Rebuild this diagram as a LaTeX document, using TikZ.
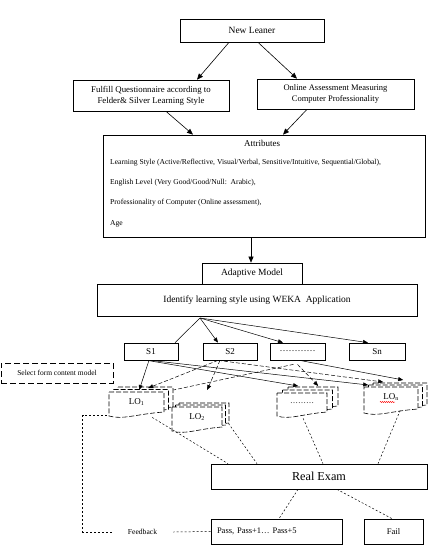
\documentclass[tikz,border=0pt]{standalone}
\usepackage{fontspec}
\setmainfont{Liberation Serif}
\usetikzlibrary{arrows.meta,decorations.pathmorphing}
\newcommand{\docshape}[6]{\draw[lodoc, shift={({#5},{#6})}] (#1,#2) -- (#3,#2) -- (#3,{#4-4}) .. controls ({#3-0.5*(#3-#1)},{#4-2}) and ({#1+0.25*(#3-#1)},{#4+4}) .. (#1,#4) -- cycle;}
\newcommand{\LOstack}[6]{%
  \docshape{#1}{#2}{#3}{#4}{2*#5}{2*#6}%
  \docshape{#1}{#2}{#3}{#4}{#5}{#6}%
  \docshape{#1}{#2}{#3}{#4}{0}{0}}
\begin{document}
\begin{tikzpicture}[x=1pt,y=-1pt,
  box/.style={draw, line width=0.7pt, inner sep=0pt, fill=white, align=center},
  arr/.style={-{Triangle[length=6pt,width=5pt]}, line width=0.6pt},
  sarr/.style={-{Triangle[length=5pt,width=4pt]}, line width=0.5pt},
  sline/.style={line width=0.5pt},
  lodash/.style={dash pattern=on 4pt off 2pt, line width=0.5pt},
  fdash/.style={dash pattern=on 2pt off 2pt, line width=0.5pt},
  lodoc/.style={draw, fill=white, dash pattern=on 5pt off 2pt, line width=0.6pt},
  txt/.style={inner sep=0pt}
]
\useasboundingbox[fill=white] (0,0) rectangle (439,546);

% top part
\node[box, minimum width=144pt, minimum height=23pt, font={\fontsize{9.5}{11}\selectfont}] (newl) at (252,30.5) {New Leaner};
\node[box, minimum width=156pt, minimum height=31pt, font={\fontsize{8.8}{11}\selectfont}] (ful) at (151,95.5) {Fulfill Questionnaire according to\\Felder\& Silver Learning Style};
\node[box, minimum width=157pt, minimum height=30pt, font={\fontsize{8.5}{11.5}\selectfont}] (onl) at (335.5,94) {Online Assessment Measuring\\Computer Professionality};
\node[box, minimum width=322pt, minimum height=102pt] (attr) at (264,186) {};
\node[txt, font={\fontsize{9}{11}\selectfont}] (attrt) at (262,143) {Attributes};
\node[txt, anchor=west, font={\fontsize{7.6}{9}\selectfont}] (a1) at (110,163) {Learning Style (Active/Reflective, Visual/Verbal, Sensitive/Intuitive, Sequential/Global),};
\node[txt, anchor=west, font={\fontsize{7.6}{9}\selectfont}] (a2) at (110,183) {English Level (Very Good/Good/Null:\ \ Arabic),};
\node[txt, anchor=west, font={\fontsize{7.6}{9}\selectfont}] (a3) at (110,203) {Professionality of Computer (Online assessment),};
\node[txt, anchor=west, font={\fontsize{7.6}{9}\selectfont}] (a4) at (110,224) {Age};

\draw[arr] ([xshift=-23pt]newl.south) -- ([xshift=46pt]ful.north);
\draw[arr] ([xshift=6pt]newl.south) -- ([xshift=-38.5pt]onl.north);
\draw[arr] ([xshift=15pt]ful.south) -- ([xshift=-71pt]attr.north);
\draw[arr] ([xshift=-28.5pt]onl.south) -- ([xshift=19pt]attr.north);

\node[box, minimum width=100pt, minimum height=21pt, font={\fontsize{9.5}{11}\selectfont}] (adapt) at (252,273.5) {Adaptive Model};
\node[box, minimum width=320pt, minimum height=32pt, font={\fontsize{9.5}{11}\selectfont}] (ident) at (257,300) {Identify learning style using WEKA\ \ Application};
\draw[arr] ([xshift=-13pt]attr.south) -- ([xshift=-1pt]adapt.north);

% S boxes
\node[box, minimum width=54pt, minimum height=17pt, font={\fontsize{9}{11}\selectfont}] (s1) at (151,351.5) {S1};
\node[box, minimum width=54pt, minimum height=17pt, font={\fontsize{9}{11}\selectfont}] (s2) at (230,351.5) {S2};
\node[box, minimum width=55pt, minimum height=17pt, font={\fontsize{9}{11}\selectfont}] (sd) at (297.5,351.5) {…………};
\node[box, minimum width=56pt, minimum height=17pt, font={\fontsize{9}{11}\selectfont}] (sn) at (377,351.5) {Sn};
\node[box, dash pattern=on 6pt off 3pt, line width=0.6pt, minimum width=112pt, minimum height=20pt, font={\fontsize{7.5}{9}\selectfont}] (sel) at (57,373) {Select form content model};

\coordinate (fan) at (200,318);
\draw[sline] (fan) -- ([xshift=24pt]s1.north);
\draw[sarr] (fan) -- ([xshift=-12pt]s2.north);
\draw[sarr] (fan) -- ([xshift=-14.5pt]sd.north);
\draw[sarr] (fan) -- ([xshift=-9pt]sn.north);

% LO stacks
\LOstack{109}{392}{164}{416}{4.5}{-2.5}
\LOstack{172}{407}{222}{431}{3.5}{-2}
\LOstack{277}{393}{327}{416}{5.5}{-3}
\LOstack{364}{387}{418}{413}{4.5}{-2}
\node[txt, minimum width=55pt, minimum height=20pt, anchor=north west, font={\fontsize{9}{11}\selectfont}] (lo1) at (109,392) {LO\textsubscript{1}};
\node[txt, minimum width=50pt, minimum height=20pt, anchor=north west, font={\fontsize{9}{11}\selectfont}] (lo2) at (172,407) {LO\textsubscript{2}};
\node[txt, minimum width=50pt, minimum height=19pt, anchor=north west, font={\fontsize{8}{10}\selectfont}] (lod) at (277,393) {………};
\node[txt, minimum width=54pt, minimum height=20pt, anchor=north west, font={\fontsize{9}{11}\selectfont}] (lon) at (364,387) {LO\textsubscript{n}};
\draw[red, line width=0.4pt, decorate, decoration={snake, amplitude=0.6pt, segment length=2pt}] (380,402) -- (395,402);

% S -> LO connectors
\draw[sarr] ([xshift=-2pt]s1.south) -- ([xshift=2.5pt,yshift=2pt]lo1.north);
\draw[sarr] ([xshift=-4pt]s1.south) -- ([xshift=-4pt,yshift=7pt]lod.north);
\draw[sarr] ([xshift=-1pt]s1.south) -- ([xshift=-23pt,yshift=2pt]lon.north);
\draw[sarr, lodash] ([xshift=-12pt]s2.south) -- ([xshift=11.5pt,yshift=4pt]lo1.north);
\draw[sarr, lodash] ([xshift=-10pt]s2.south) -- ([xshift=10pt,yshift=17pt]lo2.north);
\draw[sarr, lodash] ([xshift=-12pt]s2.south) -- ([xshift=-8pt,yshift=5pt]lon.north);
\draw[sline, lodash] ([xshift=-4pt,yshift=-4pt]sd.south) -- ([xshift=9pt,yshift=2pt]lo1.north east);
\draw[sarr, lodash] ([yshift=-4pt]sd.south) -- ([xshift=16pt,yshift=7pt]lod.north);
\draw[sarr] ([xshift=2pt]sd.south) -- ([xshift=12pt,yshift=7pt]lon.north);

% Real exam
\node[box, minimum width=216pt, minimum height=25pt, font={\fontsize{12.2}{14}\selectfont}] (real) at (319,476.5) {Real Exam};
\draw[fdash] ([xshift=15.5pt,yshift=-5pt]lo1.south) -- ([xshift=-91pt]real.north);
\draw[fdash] ([xshift=6pt,yshift=4pt]lo2.south east) -- ([xshift=-62pt]real.north);
\draw[fdash] ([xshift=1pt,yshift=-6pt]lod.south) -- ([xshift=4pt]real.north);
\draw[fdash] ([xshift=9pt,yshift=-3pt]lon.south) -- ([xshift=59pt]real.north);

\node[box, minimum height=25pt, text width=119pt, inner xsep=6pt, align=left, font={\fontsize{8.5}{10}\selectfont}] (pass) at (276.5,531.5) {Pass, Pass+1… Pass+5};
\node[box, minimum width=59pt, minimum height=25pt, font={\fontsize{8.6}{10}\selectfont}] (fail) at (393.5,531.5) {Fail};
\draw[fdash] ([xshift=-21pt]real.south) -- ([xshift=2.5pt]pass.north);
\draw[fdash] ([xshift=18pt]real.south) -- ([xshift=-1.5pt]fail.north);

\node[inner xsep=16pt, inner ysep=0pt, font={\fontsize{7.6}{9}\selectfont}] (fb) at (142.5,532) {Feedback};
\draw[fdash] (pass.west) -- (fb.east);
\draw[fdash] (fb.west) -- ++(-29,0) |- ([yshift=-3pt]lo1.south west);
\end{tikzpicture}
\end{document}
